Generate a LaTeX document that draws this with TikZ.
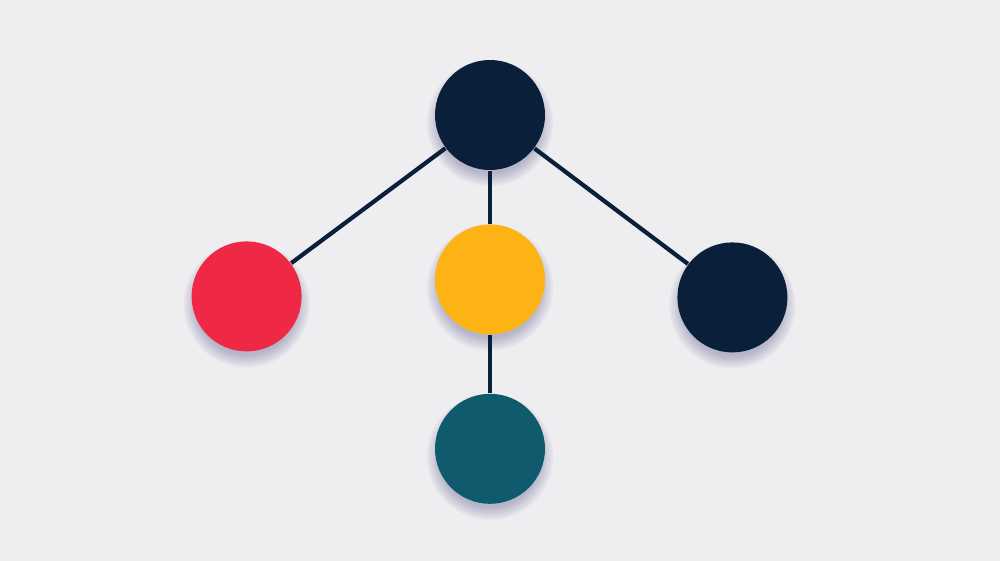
\documentclass[tikz,border=0pt]{standalone}
\usepackage{tikz}
\usetikzlibrary{positioning,backgrounds}

\definecolor{bgcol}{HTML}{EEEDF0}
\definecolor{navycol}{HTML}{0A1F3A}
\definecolor{redcol}{HTML}{EE2845}
\definecolor{yellowcol}{HTML}{FDB313}
\definecolor{tealcol}{HTML}{0F5A6C}

\begin{document}
\begin{tikzpicture}[dotnode/.style={circle, draw=none, minimum size=1.1cm, inner sep=0pt},
                    link/.style={draw=navycol, line width=1.2pt}]

        \useasboundingbox (0,0) rectangle (10,-5.6);

        \node[dotnode, fill=navycol] (top) at (4.9,-1.15) {};
        \node[dotnode, fill=yellowcol] (mid) [below=0.53cm of top] {};
        \node[dotnode, fill=tealcol] (bot) [below=0.58cm of mid] {};
        \node[dotnode, fill=redcol] (left) [left=1.32cm of mid, yshift=-0.17cm] {};
        \node[dotnode, fill=navycol] (right) [right=1.31cm of mid, yshift=-0.18cm] {};

        \draw[link] (top) -- (left);
        \draw[link] (top) -- (mid);
        \draw[link] (top) -- (right);
        \draw[link] (mid) -- (bot);

        % soft shadows under the dots
        \begin{scope}[on background layer]
        \fill[bgcol] (-0.1,0.1) rectangle (10.1,-5.7);
        \foreach \n in {top,mid,bot,left,right}
          \foreach \r in {0.63,0.61,0.59,0.57,0.55,0.53,0.51}
            \fill[black!70!blue, opacity=0.035] ([yshift=-0.08cm]\n.center) circle (\r);
        \end{scope}

        \end{tikzpicture}
\end{document}
